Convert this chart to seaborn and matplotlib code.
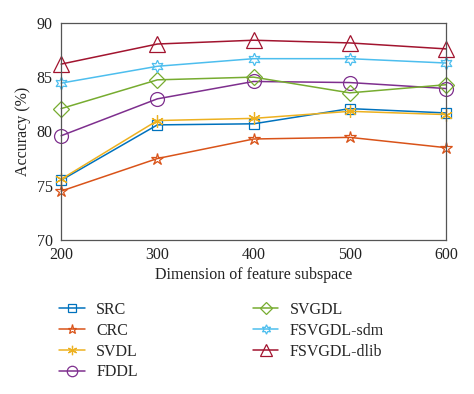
import matplotlib
matplotlib.use("Agg")
import matplotlib.pyplot as plt
import seaborn as sns
import pandas as pd

dims = [200, 300, 400, 500, 600]
methods = ["SRC", "CRC", "SVDL", "FDDL", "SVGDL", "FSVGDL-sdm", "FSVGDL-dlib"]
src = [75.5, 80.6, 80.7, 82.1, 81.7]
crc = [74.5, 77.5, 79.3, 79.45, 78.5]
svdl = [75.6, 81.0, 81.2, 81.85, 81.55]
fddl = [79.6, 83.0, 84.6, 84.5, 83.95]
svgdl = [82.1, 84.75, 85.0, 83.55, 84.3]
fsvgdl_sdm = [84.45, 86.0, 86.7, 86.7, 86.3]
fsvgdl_dlib = [86.2, 88.05, 88.4, 88.15, 87.6]
series = [src, crc, svdl, fddl, svgdl, fsvgdl_sdm, fsvgdl_dlib]

colors = ["#0072BD", "#D95319", "#EDB120", "#7E2F8E", "#77AC30", "#4DBEEE", "#A2142F"]
markers = ["s", "*", (6, 2, 0), "o", "D", (6, 1, 0), "^"]
msizes = [7, 9, 9, 10, 8, 9, 11]

rows = []
for m, vals in zip(methods, series):
    for d, v in zip(dims, vals):
        rows.append({"dim": d, "acc": v, "method": m})
df = pd.DataFrame(rows)

sns.set_theme(style="white")
plt.rcParams["font.family"] = ["Liberation Serif", "DejaVu Serif"]

fig = plt.figure(figsize=(4.74, 3.94), dpi=100)
ax = fig.add_axes([0.129, 0.391, 0.812, 0.551])

for i, m in enumerate(methods):
    sub = df[df["method"] == m]
    sns.lineplot(data=sub, x="dim", y="acc", ax=ax, color=colors[i], marker=markers[i],
                 markersize=msizes[i], markerfacecolor="none", markeredgecolor=colors[i],
                 markeredgewidth=0.9, linewidth=1.1, label=m, legend=False, clip_on=False)

ax.set_xlim(200, 600)
ax.set_ylim(70, 90)
ax.set_xticks(dims)
ax.set_yticks([70, 75, 80, 85, 90])
ax.tick_params(direction="in", length=4, labelsize=11.5, colors="#222222", width=0.8)
ax.tick_params(axis="x", pad=5)
ax.tick_params(axis="y", pad=6)
for s in ax.spines.values():
    s.set_color("#555555")
    s.set_linewidth(0.9)
ax.set_xlabel("Dimension of feature subspace", fontsize=11.5, color="#222222", labelpad=3)
ax.set_ylabel("Accuracy (%)", fontsize=11.5, color="#222222", labelpad=4)

handles, labels = ax.get_legend_handles_labels()
fig.legend(handles, labels, ncol=2, loc="upper left", bbox_to_anchor=(0.095, 0.27),
           frameon=False, fontsize=11.5, handlelength=1.6, columnspacing=7.2,
           labelspacing=0.3, handletextpad=0.7, markerscale=0.75)

fig.savefig("out.png", dpi=100)
